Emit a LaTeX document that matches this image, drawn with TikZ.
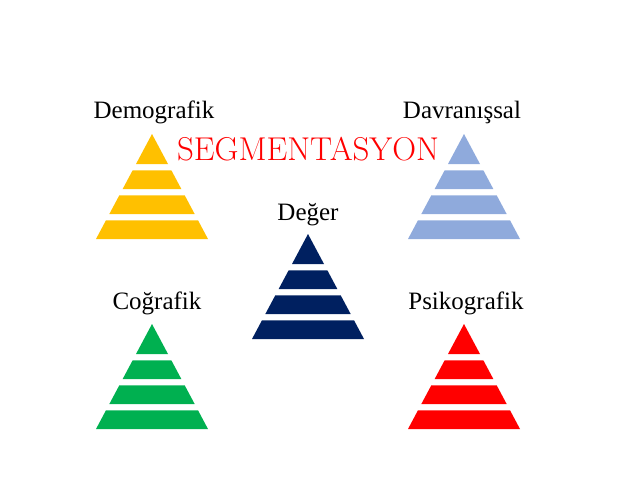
\documentclass[tikz,border=0pt]{standalone}
\usepackage{fontspec}
\usepackage{tikz}
\newfontfamily\labelfont{Liberation Serif}

\definecolor{demoyellow}{HTML}{FFC000}
\definecolor{behavblue}{HTML}{8FAADC}
\definecolor{valuenavy}{HTML}{002060}
\definecolor{geogreen}{HTML}{00B050}
\definecolor{psyred}{HTML}{FF0000}

% pyramid: centre x, base y, colour
\newcommand{\segpyramid}[3]{%
  \fill[#3] (#1,#2-105) -- ({#1+16},{#2-75}) -- ({#1-16},{#2-75}) -- cycle;
  \foreach \t/\b in {36.3/55, 61.3/80, 86.3/105}
    \fill[#3] ({#1-\t*0.5333},{#2-105+\t}) -- ({#1+\t*0.5333},{#2-105+\t})
      -- ({#1+\b*0.5333},{#2-105+\b}) -- ({#1-\b*0.5333},{#2-105+\b}) -- cycle;
}

\begin{document}
\begin{tikzpicture}[
    x=1pt,y=-1pt,
    label/.style={anchor=base, inner sep=0pt, font=\labelfont\fontsize{25}{30}\selectfont},
    title/.style={anchor=base, inner sep=0pt, text=red, font=\fontsize{33}{40}\selectfont}
    ]
    \useasboundingbox (0,0) rectangle (617,492);
    \segpyramid{152}{239}{demoyellow}
    \segpyramid{464}{239}{behavblue}
    \segpyramid{308}{339}{valuenavy}
    \segpyramid{152}{429}{geogreen}
    \segpyramid{464}{429}{psyred}
    \node[label] (demo) at (154,118) {Demografik};
    \node[label] (behav) at (462,118) {Davranışsal};
    \node[label] (value) at (308,220) {Değer};
    \node[label] (geo) at (157,309) {Coğrafik};
    \node[label] (psy) at (466,309) {Psikografik};
    \node[title] (seg) at (308,160) {SEGMENTASYON};
  \end{tikzpicture}
\end{document}
